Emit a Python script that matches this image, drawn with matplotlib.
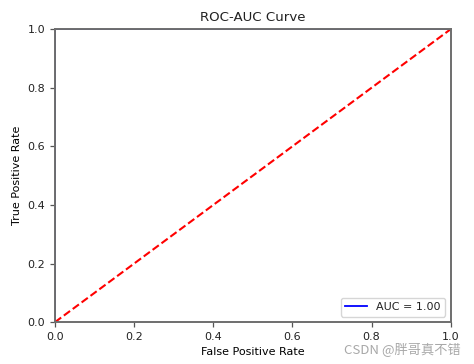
import matplotlib
matplotlib.use('Agg')
import matplotlib.pyplot as plt

# ROC data (perfect classifier)
fpr = [0.0, 0.0, 1.0]
tpr = [0.0, 1.0, 1.0]
roc_auc = 1.00
diag = [0.0, 1.0]

plt.rcParams['font.size'] = 8
plt.rcParams['text.color'] = '#222222'
plt.rcParams['axes.edgecolor'] = '#6e6e6e'
plt.rcParams['axes.linewidth'] = 1.4
plt.rcParams['xtick.color'] = '#555555'
plt.rcParams['ytick.color'] = '#555555'
plt.rcParams['xtick.labelcolor'] = '#222222'
plt.rcParams['ytick.labelcolor'] = '#222222'

fig = plt.figure(figsize=(4.74, 3.64), dpi=100)
ax = fig.add_axes([0.116, 0.115, 0.835, 0.805])
ax.plot(fpr, tpr, color='blue', lw=1.3, label='AUC = %0.2f' % roc_auc)
ax.plot(diag, diag, 'r--')
ax.set_xlim(0, 1)
ax.set_ylim(0, 1)
ax.tick_params(width=0.9)
ax.set_title('ROC-AUC Curve', fontsize=9.6)
ax.set_xlabel('False Positive Rate')
ax.set_ylabel('True Positive Rate')
ax.legend(loc='lower right')

fig.text(0.973, 0.027, 'CSDN @胖哥真不错', ha='right', va='baseline', fontsize=9.5,
         color='#a8a8a8', family=['Noto Sans CJK SC', 'DejaVu Sans'])
fig.savefig('out.png')
